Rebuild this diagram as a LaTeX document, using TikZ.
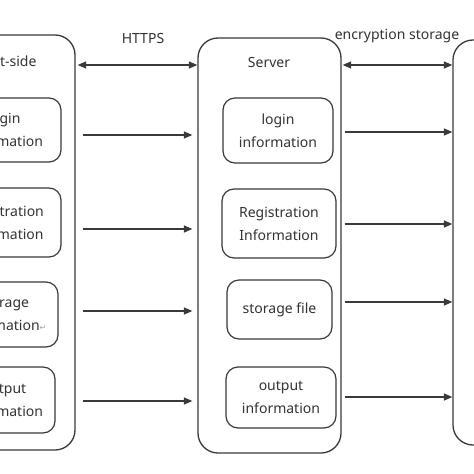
\documentclass[tikz,border=0pt]{standalone}
\usepackage{fontspec}
\setmainfont{Noto Sans}
\newfontfamily\symfont{DejaVu Sans}
\usetikzlibrary{arrows.meta}
\definecolor{ln}{HTML}{3A3A3A}
\definecolor{tx}{HTML}{333333}
\begin{document}
\begin{tikzpicture}[x=1pt,y=-1pt,
  container/.style={draw=ln, line width=1.3pt, rounded corners=20pt, inner sep=0pt},
  infobox/.style={draw=ln, line width=1.2pt, rounded corners=12pt, align=center, inner sep=0pt, text=tx, font=\fontsize{14}{23}\selectfont},
  lbl/.style={text=tx, font=\fontsize{14}{17}\selectfont, inner sep=0pt},
  tip/.tip={Triangle[length=8.5pt,width=7pt]},
  conn/.style={draw=ln, line width=1.3pt, -tip},
  biconn/.style={draw=ln, line width=1.3pt, tip-tip}]
\useasboundingbox (0,0) rectangle (474,474);
\clip (0,0) rectangle (474,474);
\fill[white] (0,0) rectangle (474,474);

% containers
\node[container, minimum width=155pt, minimum height=415pt] (client) at (-2.5,242.5) {};
\node[container, minimum width=143pt, minimum height=415pt] (server) at (269.5,245.5) {};
\node[container, minimum width=150pt, minimum height=405pt] (store) at (528,242.5) {};

\node[lbl] (clientlbl) at (2,61) {Client-side};
\node[lbl] (serverlbl) at (269,63) {Server};

% client boxes
\node[infobox, minimum width=114pt, minimum height=64pt] (clogin) at (4,130) {login\\information};
\node[infobox, minimum width=114pt, minimum height=69pt] (creg) at (4,222.5) {Registration\\Information};
\node[infobox, minimum width=108pt, minimum height=65pt] (cstore) at (4,314.5) {storage\\information{\symfont\fontsize{8}{8}\selectfont\color{gray!70}↵}};
\node[infobox, minimum width=102pt, minimum height=66pt] (cout) at (4,400) {output\\information};

% server boxes
\node[infobox, minimum width=110pt, minimum height=65pt] (slogin) at (278,130.5) {login\\information};
\node[infobox, minimum width=114pt, minimum height=69pt] (sreg) at (279,223.5) {Registration\\Information};
\node[infobox, minimum width=105pt, minimum height=59pt] (sstore) at (279.5,309.5) {storage file};
\node[infobox, minimum width=110pt, minimum height=61pt] (sout) at (281,397.5) {output\\information};

% top bidirectional links
\draw[biconn] ([xshift=2pt]client.east |- 0,65) -- (server.west |- 0,65);
\node[lbl] (https) at (143,39) {HTTPS};
\draw[biconn] ([xshift=1pt]server.east |- 0,65) -- (store.west |- 0,65);
\node[lbl] (enc) at (397,36) {encryption storage};

% client -> server
\draw[conn] ([xshift=7pt]client.east |- 0,135) -- ([xshift=-5pt]server.west |- 0,135);
\draw[conn] ([xshift=7pt]client.east |- 0,229) -- ([xshift=-5pt]server.west |- 0,229);
\draw[conn] ([xshift=7pt]client.east |- 0,311) -- ([xshift=-5pt]server.west |- 0,311);
\draw[conn] ([xshift=7pt]client.east |- 0,401) -- ([xshift=-5pt]server.west |- 0,401);

% server -> storage
\draw[conn] ([xshift=3pt]server.east |- 0,132) -- (store.west |- 0,132);
\draw[conn] ([xshift=3pt]server.east |- 0,224) -- (store.west |- 0,224);
\draw[conn] ([xshift=3pt]server.east |- 0,302) -- (store.west |- 0,302);
\draw[conn] ([xshift=3pt]server.east |- 0,397) -- (store.west |- 0,397);
\end{tikzpicture}
\end{document}
